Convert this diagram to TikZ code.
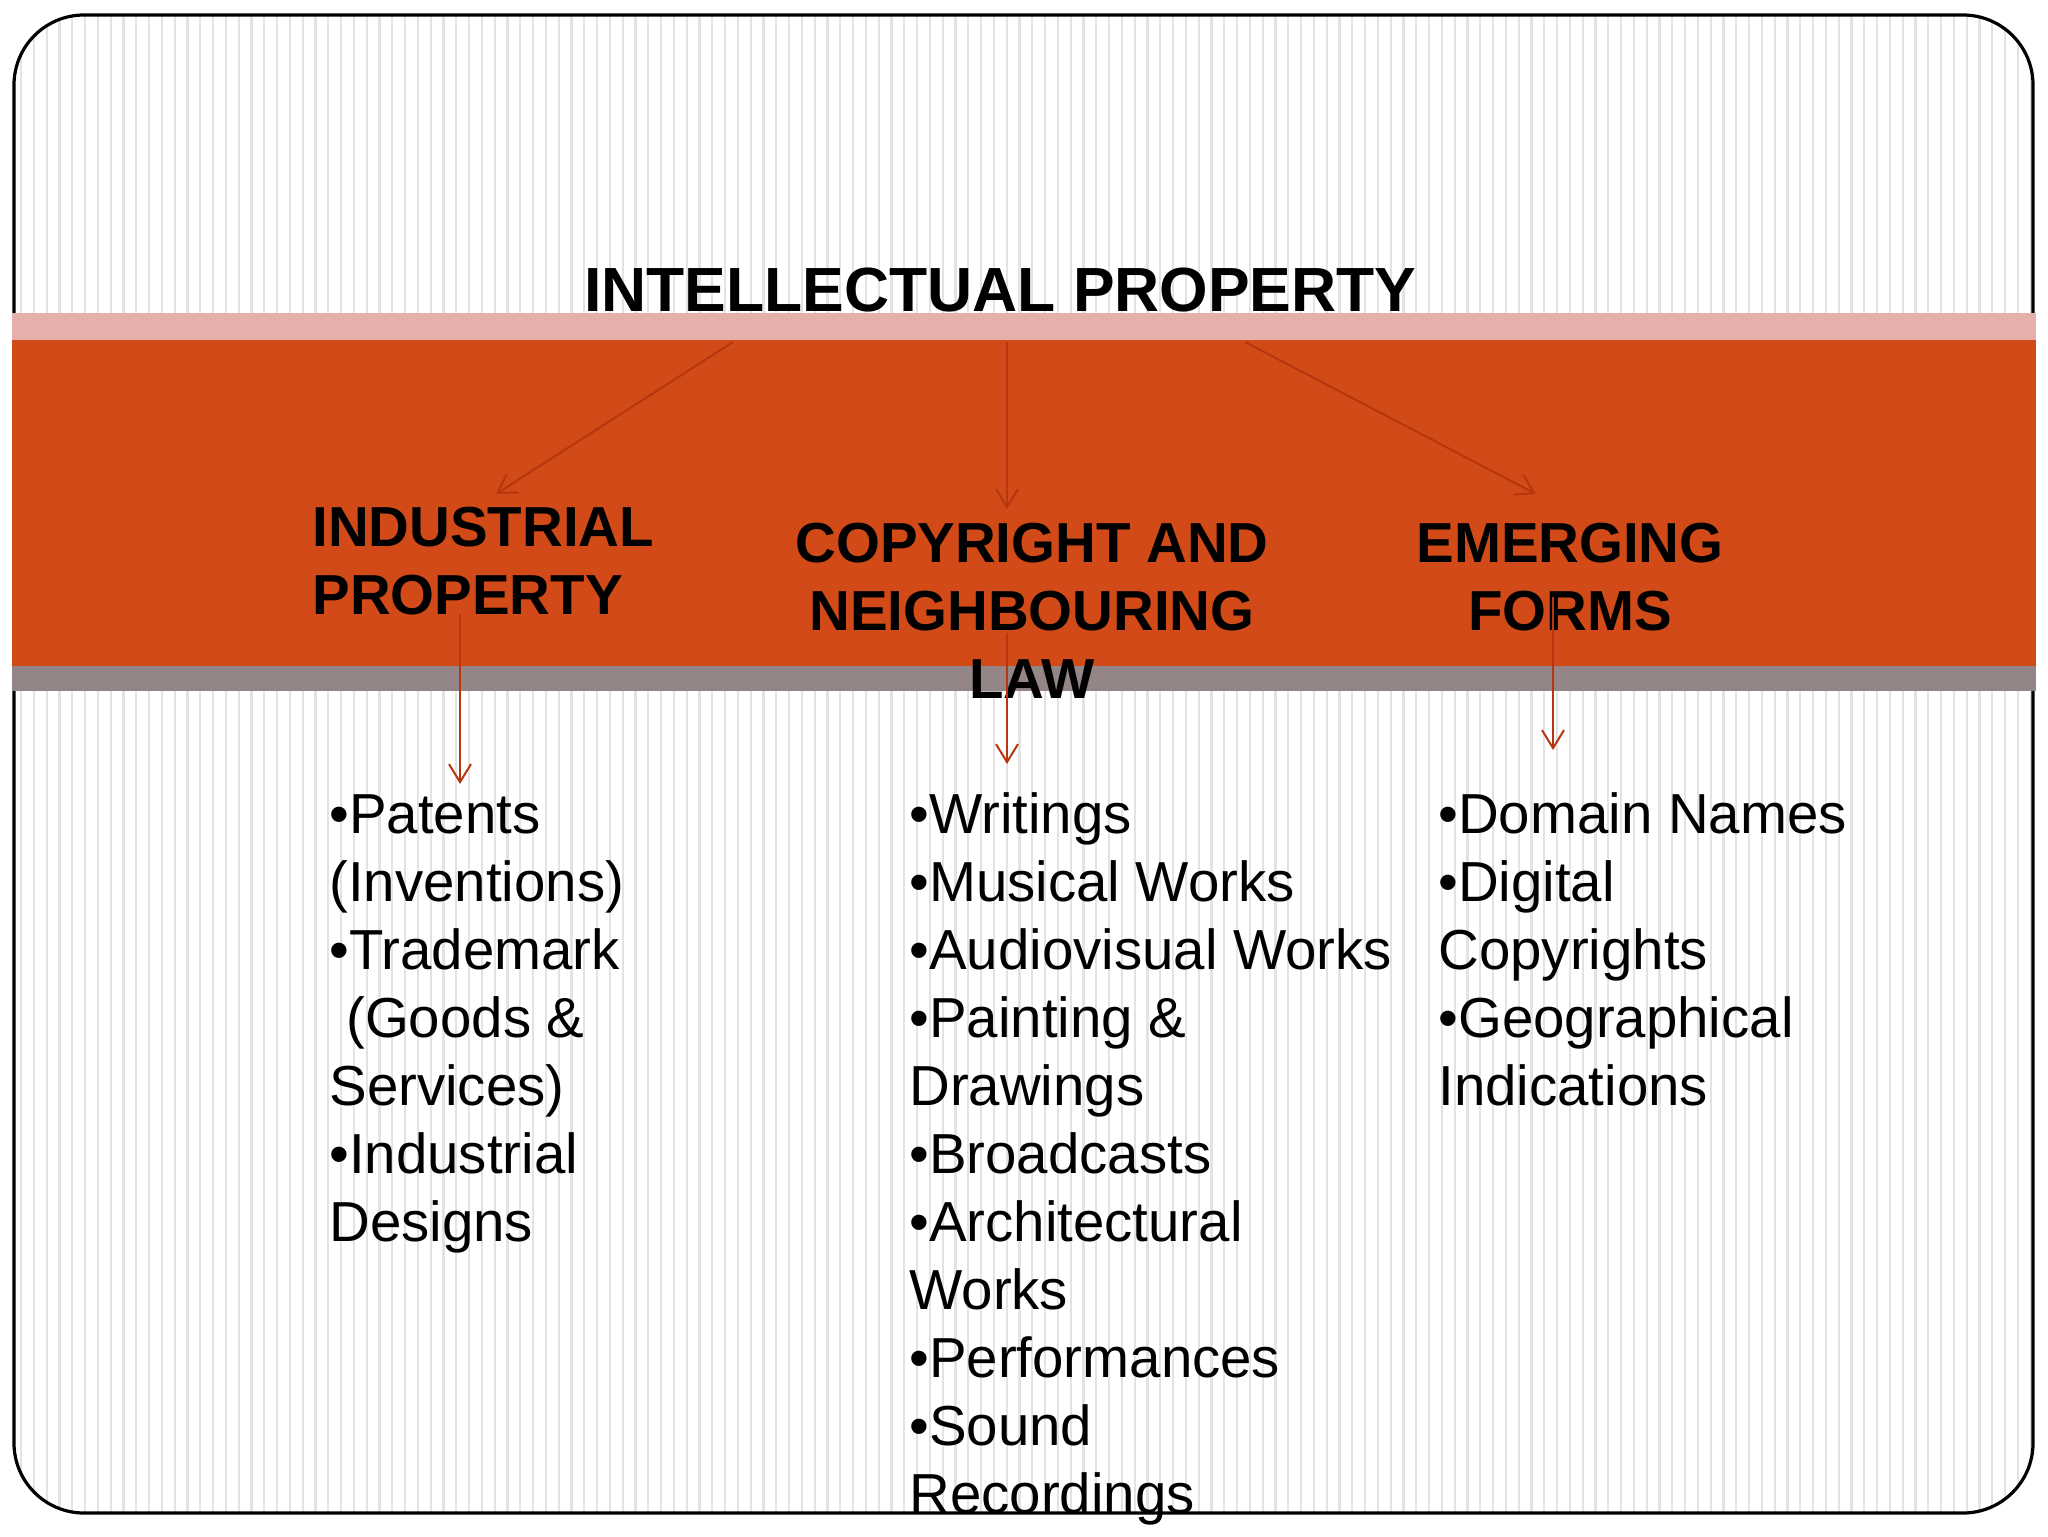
\documentclass[tikz,border=0pt]{standalone}
\usepackage{fontspec}
\setmainfont{Liberation Sans}
\usetikzlibrary{arrows.meta}
\definecolor{bandred}{HTML}{D24A18}
\definecolor{bandpink}{HTML}{E5B0AC}
\definecolor{bandgrey}{HTML}{948686}
\definecolor{arrowred}{HTML}{B5360F}
\definecolor{stripe}{HTML}{E3E3E3}
\begin{document}
\begin{tikzpicture}[x=0.5pt,y=-0.5pt,
    link/.style={-{Straight Barb[length=9pt,width=11pt]},arrowred,line width=1pt},
    head/.style={font=\fontsize{28.2}{34}\selectfont\bfseries,inner sep=0pt},
    items/.style={font=\fontsize{28.2}{34}\selectfont,align=left,inner sep=0pt,anchor=base west}]
  \useasboundingbox (0,0) rectangle (2048,1536);
  % striped page
  \begin{scope}
    \clip[rounded corners=35pt] (14,15) rectangle (2033,1513);
    \foreach \x in {21,33.8,...,2040}
      \draw[stripe,line width=1.1pt] (\x,15) -- (\x,1513);
  \end{scope}
  \draw[line width=1.6pt,rounded corners=35pt] (14,15) rectangle (2033,1513);
  % band
  \fill[bandpink] (12,313) rectangle (2036,340);
  \fill[bandred]  (12,340) rectangle (2036,666);
  \fill[bandgrey] (12,666) rectangle (2036,691);

  % base of a multi-line node = base of its last line
  \node[font=\fontsize{31.2}{37}\selectfont\bfseries,inner sep=0pt,anchor=base west] (ip) at (584,311) {INTELLECTUAL PROPERTY};
  \node[head,anchor=base west,align=left] (ind) at (312,614) {INDUSTRIAL\\PROPERTY};
  \node[head,anchor=base,align=center] (copy) at (1032,698) {COPYRIGHT AND\\NEIGHBOURING\\LAW};
  \node[head,anchor=base,align=center] (emerg) at (1570,630) {EMERGING\\FORMS};

  \node[items] (indlist) at (329,1241) {•Patents\\(Inventions)\\•Trademark\\\hspace*{0.3em}(Goods \&\\Services)\\•Industrial\\Designs};
  \node[items] (copylist) at (909,1513) {•Writings\\•Musical Works\\•Audiovisual Works\\•Painting \&\\Drawings\\•Broadcasts\\•Architectural\\Works\\•Performances\\•Sound\\Recordings};
  \node[items] (emerglist) at (1438,1105) {•Domain Names\\•Digital\\Copyrights\\•Geographical\\Indications};

  \coordinate (s1) at (733,342);  \coordinate (t1) at (496,494);
  \coordinate (s2) at (1007,342); \coordinate (t2) at (1007,509);
  \coordinate (s3) at (1245,342); \coordinate (t3) at (1536,494);
  \coordinate (s4) at (460,614);  \coordinate (t4) at (460,784);
  \coordinate (s5) at (1007,633); \coordinate (t5) at (1007,764);
  \coordinate (s6) at (1553,597); \coordinate (t6) at (1553,750);
  \foreach \i in {1,...,6}
    \draw[link] (s\i) -- (t\i);
\end{tikzpicture}
\end{document}
